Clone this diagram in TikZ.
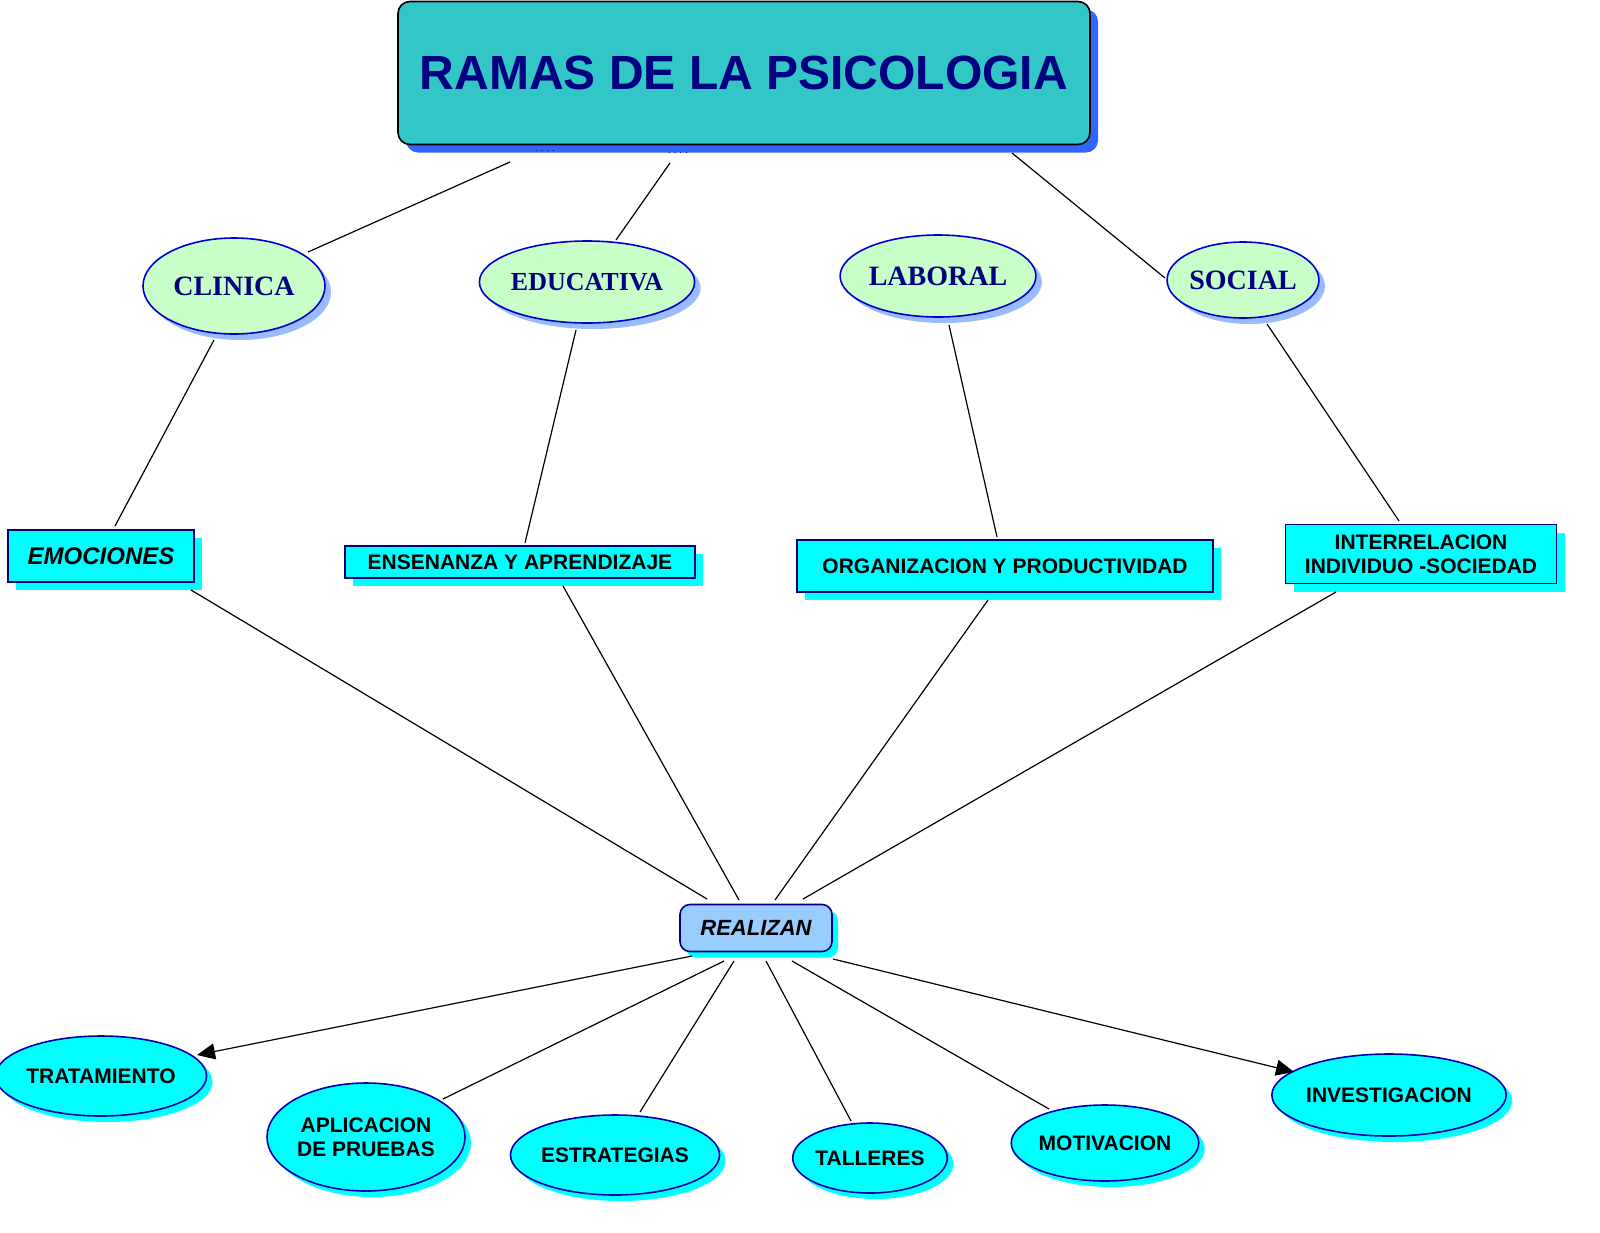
\documentclass[tikz,border=0pt]{standalone}
\usepackage{fontspec}
\setmainfont{Liberation Serif}
\newfontfamily\sansf{Liberation Sans}
\usetikzlibrary{shapes.geometric,arrows.meta,shadows}
\definecolor{titlef}{HTML}{33C6C6}
\definecolor{tshad}{HTML}{3366FF}
\definecolor{greenf}{HTML}{C8FFC8}
\definecolor{eshad}{HTML}{99BBFF}
\definecolor{navy}{HTML}{000080}
\definecolor{realf}{HTML}{99CCFF}
\definecolor{cyanf}{HTML}{00FFFF}
\begin{document}
\begin{tikzpicture}[x=0.5pt,y=-0.5pt,
 gel/.style={ellipse,draw=blue!80!black,fill=greenf,thick,inner sep=0pt,text=navy,font=\bfseries\fontsize{14}{14}\selectfont,
   drop shadow={shadow xshift=3pt,shadow yshift=-3pt,fill=eshad,opacity=1}},
 cel/.style={ellipse,draw=blue!70!black,fill=cyanf,thick,inner sep=0pt,font=\sansf\bfseries\fontsize{10.5}{12}\selectfont,align=center,
   drop shadow={shadow xshift=3pt,shadow yshift=-3pt,fill=cyanf,opacity=1}},
 box/.style={rectangle,draw=navy,fill=cyanf,thick,inner sep=0pt,font=\sansf\bfseries\fontsize{10.5}{12}\selectfont,align=center,
   drop shadow={shadow xshift=4pt,shadow yshift=-4pt,fill=cyanf,opacity=1}},
 ln/.style={draw=black,line width=0.6pt},
 arr/.style={ln,-{Triangle[length=9pt,width=8pt]}}]
\useasboundingbox (0,0) rectangle (1600,1232);
\node[rectangle,rounded corners=6pt,draw=black,thick,fill=titlef,minimum width=346pt,minimum height=71.5pt,
  text=navy,font=\sansf\bfseries\fontsize{24}{24}\selectfont,
  drop shadow={shadow xshift=4pt,shadow yshift=-4pt,fill=tshad,opacity=1}] (t) at (744,73) {RAMAS DE LA PSICOLOGIA};
\node[gel,minimum width=91pt,minimum height=48pt] (cl) at (234,286) {CLINICA};
\node[gel,minimum width=100pt,minimum height=41pt,font=\bfseries\fontsize{13}{13}\selectfont] (ed) at (587,282) {EDUCATIVA};
\node[gel,minimum width=92pt,minimum height=41pt] (la) at (938,276) {LABORAL};
\node[gel,minimum width=75pt,minimum height=38pt] (so) at (1243,280) {SOCIAL};
\node[box,minimum width=93pt,minimum height=26pt,font=\sansf\bfseries\itshape\fontsize{12}{12}\selectfont] (em) at (101,556) {EMOCIONES};
\node[box,minimum width=175pt,minimum height=16pt] (en) at (520,562) {ENSENANZA Y APRENDIZAJE};
\node[box,minimum width=208pt,minimum height=26pt] (or) at (1005,566) {ORGANIZACION Y PRODUCTIVIDAD};
\node[box,minimum width=135.5pt,minimum height=29.5pt] (in) at (1421,554) {INTERRELACION\\INDIVIDUO -SOCIEDAD};
\node[rectangle,rounded corners=5pt,draw=navy,thick,fill=realf,minimum width=76pt,minimum height=23.5pt,
  font=\sansf\bfseries\itshape\fontsize{11}{11}\selectfont,
  drop shadow={shadow xshift=3pt,shadow yshift=-3pt,fill=cyanf,opacity=1}] (re) at (756,928) {REALIZAN};
\node[cel,minimum width=100pt,minimum height=40pt] (tr) at (101,1076) {TRATAMIENTO};
\node[cel,minimum width=99pt,minimum height=54pt] (ap) at (366,1137) {APLICACION\\DE PRUEBAS};
\node[cel,minimum width=98pt,minimum height=40pt] (es) at (615,1155) {ESTRATEGIAS};
\node[cel,minimum width=76pt,minimum height=35pt] (ta) at (870,1158) {TALLERES};
\node[cel,minimum width=90pt,minimum height=38pt] (mo) at (1105,1143) {MOTIVACION};
\node[cel,minimum width=107pt,minimum height=41pt] (iv) at (1389,1095) {INVESTIGACION};
\node[font=\tiny,inner sep=0pt] (d1) at (545,151) {. . . .};
\node[font=\tiny,inner sep=0pt] (d2) at (678,153) {. . . .};
% endpoints
\coordinate (t1) at (510,162); \coordinate (cl1) at (308,252);
\coordinate (t2) at (670,163); \coordinate (ed1) at (616,240);
\coordinate (t3) at (1012,153); \coordinate (so1) at (1165,278);
\coordinate (cl2) at (214,340); \coordinate (em1) at (115,526);
\coordinate (ed2) at (576,330); \coordinate (en1) at (525,543);
\coordinate (la2) at (949,325); \coordinate (or1) at (997,537);
\coordinate (so2) at (1267,324); \coordinate (in1) at (1399,521);
\coordinate (em2) at (191,590); \coordinate (re1) at (707,899);
\coordinate (en2) at (563,586); \coordinate (re2) at (739,900);
\coordinate (or2) at (988,600); \coordinate (re3) at (775,900);
\coordinate (in2) at (1336,592); \coordinate (re4) at (803,899);
\coordinate (re5) at (692,956); \coordinate (tr1) at (197,1055);
\coordinate (re6) at (724,961); \coordinate (ap1) at (443,1099);
\coordinate (re7) at (734,961); \coordinate (es1) at (640,1112);
\coordinate (re8) at (766,961); \coordinate (ta1) at (851,1121);
\coordinate (re9) at (792,961); \coordinate (mo1) at (1049,1109);
\coordinate (re10) at (833,959); \coordinate (iv1) at (1294,1072);
\draw[ln] (t1) -- (cl1);
\draw[ln] (t2) -- (ed1);
\draw[ln] (t3) -- (so1);
\draw[ln] (cl2) -- (em1);
\draw[ln] (ed2) -- (en1);
\draw[ln] (la2) -- (or1);
\draw[ln] (so2) -- (in1);
\draw[ln] (em2) -- (re1);
\draw[ln] (en2) -- (re2);
\draw[ln] (or2) -- (re3);
\draw[ln] (in2) -- (re4);
\draw[arr] (re5) -- (tr1);
\draw[ln] (re6) -- (ap1);
\draw[ln] (re7) -- (es1);
\draw[ln] (re8) -- (ta1);
\draw[ln] (re9) -- (mo1);
\draw[arr] (re10) -- (iv1);
\end{tikzpicture}
\end{document}
